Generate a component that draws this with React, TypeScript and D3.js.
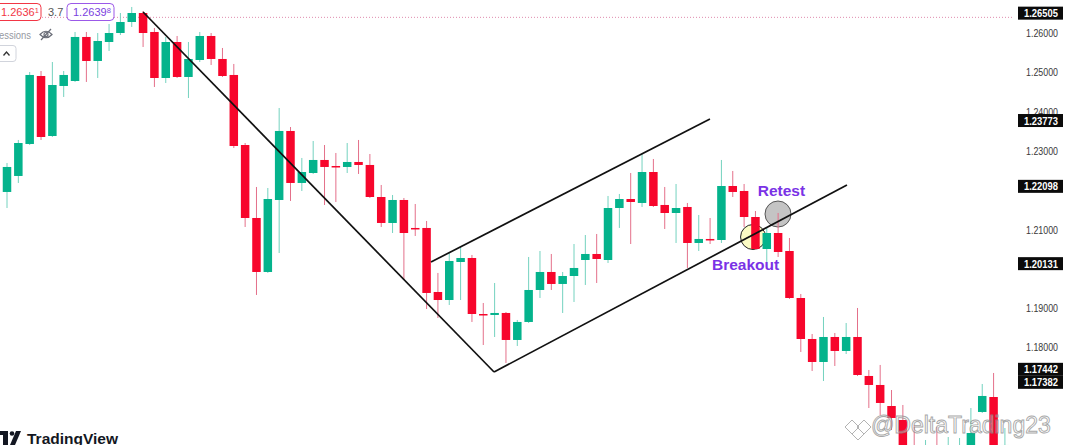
import React from 'react';
import * as d3 from 'd3';

const opens = [1.21955,1.22362,1.23176,1.24906,1.23379,1.24652,1.24779,1.25899,1.25288,1.25771,1.26000,1.26280,1.26509,1.26026,1.24855,1.25771,1.24881,1.25313,1.25924,1.25339,1.24932,1.23150,1.21293,1.19919,1.21751,1.23507,1.22184,1.22438,1.22769,1.22616,1.22591,1.22718,1.22642,1.21827,1.21166,1.21751,1.21039,1.21039,1.19410,1.19206,1.20173,1.20275,1.18850,1.18825,1.18876,1.18189,1.18647,1.19461,1.19919,1.19614,1.19817,1.20224,1.20377,1.20224,1.21547,1.21776,1.21675,1.22463,1.21624,1.21420,1.21573,1.20657,1.20759,1.20733,1.22107,1.21980,1.21318,1.20504,1.20911,1.20453,1.19257,1.18214,1.17629,1.18265,1.17909,1.18265,1.17273,1.17044,1.16509,1.16153,1.15135,1.14677,1.15390,1.15008,1.15008,1.15263,1.16357,1.16738,1.15135];
const highs = [1.22692,1.23278,1.25008,1.25033,1.25262,1.25033,1.26026,1.26026,1.26000,1.26229,1.26509,1.26662,1.26560,1.26128,1.25899,1.25924,1.25771,1.26026,1.26000,1.25619,1.25212,1.23201,1.22082,1.22056,1.24092,1.23608,1.22820,1.23252,1.23150,1.22947,1.23201,1.23278,1.22921,1.22133,1.21878,1.21802,1.21649,1.21217,1.19894,1.20402,1.20555,1.20352,1.19130,1.19639,1.18901,1.18698,1.20301,1.20453,1.20377,1.19919,1.20631,1.20860,1.20886,1.21853,1.21904,1.22438,1.22921,1.22794,1.22082,1.22158,1.21675,1.21369,1.21293,1.22769,1.22489,1.22158,1.21471,1.21064,1.21420,1.20784,1.19359,1.18341,1.18774,1.18367,1.18621,1.19003,1.17425,1.17553,1.16916,1.16535,1.16026,1.15644,1.15975,1.15720,1.15695,1.16458,1.17069,1.17349,1.15949];
const lows = [1.21547,1.22184,1.23150,1.23278,1.23354,1.24372,1.24754,1.24754,1.24855,1.25542,1.25949,1.26153,1.25644,1.24626,1.24728,1.24855,1.24346,1.25262,1.25186,1.24881,1.23074,1.21064,1.19334,1.19894,1.20402,1.21726,1.21980,1.22413,1.21624,1.21700,1.22438,1.22413,1.21802,1.21064,1.20911,1.19715,1.20835,1.18977,1.18748,1.19079,1.19206,1.18647,1.18061,1.18265,1.17603,1.18036,1.18621,1.19257,1.19461,1.18876,1.19156,1.19588,1.19639,1.20148,1.21039,1.20631,1.21573,1.21573,1.21013,1.20657,1.20021,1.20453,1.20631,1.20657,1.21827,1.21064,1.20479,1.20173,1.20301,1.19232,1.17883,1.17400,1.17145,1.17527,1.17832,1.17273,1.16458,1.16280,1.15899,1.14881,1.14372,1.14499,1.14626,1.14754,1.14881,1.15135,1.16331,1.15135,1.15008];
const closes = [1.22591,1.23201,1.24932,1.23354,1.24677,1.24932,1.25899,1.25288,1.25797,1.26000,1.26280,1.26509,1.26000,1.24855,1.25771,1.24881,1.25339,1.25924,1.25339,1.24906,1.23125,1.21293,1.19919,1.21776,1.23507,1.22184,1.22463,1.22769,1.22591,1.22591,1.22718,1.22642,1.21827,1.21166,1.21751,1.20911,1.21013,1.19385,1.19206,1.20199,1.20275,1.18850,1.18825,1.18876,1.18189,1.18647,1.19461,1.19919,1.19614,1.19817,1.20021,1.20377,1.20250,1.21547,1.21776,1.21700,1.22463,1.21598,1.21420,1.21547,1.20657,1.20759,1.20733,1.22107,1.21955,1.21318,1.20504,1.20911,1.20428,1.19257,1.18214,1.17629,1.18265,1.17909,1.18265,1.17298,1.17044,1.16586,1.16204,1.15135,1.14626,1.15263,1.14881,1.15390,1.15390,1.15822,1.16764,1.15390,1.15517];

const tickPrices = [1.17, 1.18, 1.19, 1.20, 1.21, 1.22, 1.23, 1.24, 1.25, 1.26];
const markerLabels = ['1.26505', '1.23773', '1.22098', '1.20131', '1.17442', '1.17382'];
const markerPrices = [1.26505, 1.23773, 1.22098, 1.20131, 1.17442, 1.17382];

// trend line drawings: start/end as (bar index, price)
const lineStartIdx = [12.0, 42.95, 37.39];
const lineStartPrice = [1.26534, 1.17374, 1.20173];
const lineEndIdx = [42.95, 74.07, 61.99];
const lineEndPrice = [1.17374, 1.22132, 1.23812];

const circleIdx = [65.79, 67.99];
const circlePrice = [1.20809, 1.21394];

const noteTexts = ['Retest', 'Breakout'];
const noteIdx = [66.2, 62.17];
const notePrice = [1.21852, 1.19969];

const lastPrice = 1.26398;

const W = 1065;
const H = 445;
const PLOT_RIGHT = 1013;
const UP = '#04b38c';
const DOWN = '#f7062c';
const UP_WICK = '#74d2bf';
const DOWN_WICK = '#e4708a';
const PURPLE = '#7a32e6';
const AXIS_FONT = "'Liberation Sans', Arial, sans-serif";

export default function App() {
  const n = opens.length;
  const x = d3.scaleLinear().domain([0, n - 1]).range([7, 7 + (n - 1) * 11.34]);
  const y = d3.scaleLinear().domain([1.17, 1.26]).range([386.7, 33]);
  const bw = 8.5;

  // stacked price marker positions
  const order = d3.range(markerPrices.length).sort((a, b) => markerPrices[b] - markerPrices[a]);
  const markerY: number[] = [];
  let prev = -Infinity;
  order.forEach((i) => {
    let yy = y(markerPrices[i]);
    if (yy - prev < 13) yy = prev + 13;
    markerY[i] = yy;
    prev = yy;
  });

  // axis labels hidden behind marker boxes are not drawn
  const visibleTicks = tickPrices.filter((p) => markerY.every((my) => Math.abs(y(p) - my) > 7.5));

  const lineGen = d3.line<[number, number]>().x((d) => x(d[0])).y((d) => y(d[1]));

  return (
    <svg
      width={W}
      height={H}
      style={{ position: 'absolute', left: 0, top: 0, background: '#fff' }}
      fontFamily={AXIS_FONT}
    >
      <defs>
        <clipPath id="plot">
          <rect x={0} y={0} width={PLOT_RIGHT} height={H} />
        </clipPath>
      </defs>
      <rect x={0} y={0} width={W} height={H} fill="#fff" />

      <g clipPath="url(#plot)">
        <line
          x1={0}
          x2={PLOT_RIGHT}
          y1={y(lastPrice)}
          y2={y(lastPrice)}
          stroke="#d9709a"
          strokeWidth={1}
          strokeDasharray="1,2"
          opacity={0.8}
        />

        <circle cx={x(circleIdx[0])} cy={y(circlePrice[0])} r={12.5} fill="#fbfbc4" stroke="#222" strokeWidth={1} />
        <circle cx={x(circleIdx[1])} cy={y(circlePrice[1])} r={13} fill="#c4c4c4" stroke="#555" strokeWidth={1} />

        {d3.range(n).map((i) => {
          const up = closes[i] >= opens[i];
          const cx = x(i);
          const top = y(Math.max(opens[i], closes[i]));
          const bot = y(Math.min(opens[i], closes[i]));
          const h = Math.max(1.5, bot - top);
          return (
            <g key={i}>
              <line
                x1={cx}
                x2={cx}
                y1={y(highs[i])}
                y2={y(lows[i])}
                stroke={up ? UP_WICK : DOWN_WICK}
                strokeWidth={1}
              />
              <rect x={cx - bw / 2} y={top} width={bw} height={h} fill={up ? UP : DOWN} />
            </g>
          );
        })}

        {lineStartIdx.map((s, i) => (
          <path
            key={i}
            d={lineGen([
              [s, lineStartPrice[i]],
              [lineEndIdx[i], lineEndPrice[i]],
            ]) || ''}
            stroke="#111"
            strokeWidth={1.7}
            fill="none"
          />
        ))}

        {noteTexts.map((t, i) => (
          <text
            key={t}
            x={x(noteIdx[i])}
            y={y(notePrice[i])}
            fill={PURPLE}
            fontSize={15.5}
            fontWeight="bold"
          >
            {t}
          </text>
        ))}
      </g>

      {visibleTicks.map((p) => (
        <text
          key={p}
          x={1058}
          y={y(p)}
          textAnchor="end"
          dominantBaseline="central"
          fontSize={10.5}
          fill="#3a3a3a"
          textLength={32}
          lengthAdjust="spacingAndGlyphs"
        >
          {p.toFixed(5)}
        </text>
      ))}

      {markerLabels.map((lab, i) => (
        <g key={lab}>
          <rect x={1018} y={markerY[i] - 6.5} width={45} height={13} fill="#0b0b0b" />
          <text
            x={1058}
            y={markerY[i]}
            textAnchor="end"
            dominantBaseline="central"
            fontSize={10.5}
            fill="#fff"
            fontWeight="bold"
            textLength={34}
            lengthAdjust="spacingAndGlyphs"
          >
            {lab}
          </text>
        </g>
      ))}

      {/* top-left legend overlay */}
      <rect x={-5} y={3.5} width={46} height={17} rx={4} fill="#fff" stroke="#f23645" strokeWidth={1} />
      <text x={1} y={16} fontSize={11} fill="#f23645">
        1.2636<tspan fontSize={7.5} dy={-3}>1</tspan>
      </text>
      <text x={48} y={16} fontSize={11} fill="#555">3.7</text>
      <rect x={67} y={3.5} width={47} height={17} rx={4} fill="#fff" stroke="#9b59e8" strokeWidth={1} />
      <text x={73} y={16} fontSize={11} fill="#7b3fe0">
        1.2639<tspan fontSize={7.5} dy={-3}>8</tspan>
      </text>
      <text x={-1} y={38.5} fontSize={10.5} fill="#9598a1" textLength={32} lengthAdjust="spacingAndGlyphs">essions</text>
      <g stroke="#6a6d78" strokeWidth={1.2} fill="none">
        <path d="M40,34.5 Q46,28 52,34.5 Q46,41 40,34.5 Z" />
        <circle cx={46} cy={34.5} r={2} />
        <line x1={41} y1={40} x2={51} y2={29} />
      </g>
      <rect x={-3} y={45.5} width={19} height={16} rx={3} fill="#fff" stroke="#d1d4dc" strokeWidth={1} />
      <path d="M3.5,55.5 L6.5,52 L9.5,55.5" stroke="#333" strokeWidth={1.3} fill="none" />

      {/* TradingView logo */}
      <g fill="#131722">
        <path d="M0,431 L8,431 L8,445 L3,445 L3,435 L0,435 Z" />
        <circle cx={12} cy={433.5} r={2.3} />
        <path d="M16,431 L21,431 L15,445 L10,445 Z" />
      </g>
      <text x={27} y={443.5} fontSize={15.5} fontWeight="bold" fill="#131722">
        TradingView
      </text>

      {/* watermark */}
      <g opacity={0.75}>
        <g fill="none" stroke="#9a9a9a" strokeWidth={1}>
          <path d="M845,427 L852,420 L859,427 L852,434 Z" />
          <path d="M857,427 L864,420 L871,427 L864,434 Z" />
          <path d="M851,433 L858,440 L865,433" />
        </g>
        <text
          x={871}
          y={433}
          fontSize={23}
          fill="#ffffff"
          fillOpacity={0.55}
          stroke="#8a8a8a"
          strokeWidth={0.9}
        >
          @DeltaTrading23
        </text>
      </g>
    </svg>
  );
}
